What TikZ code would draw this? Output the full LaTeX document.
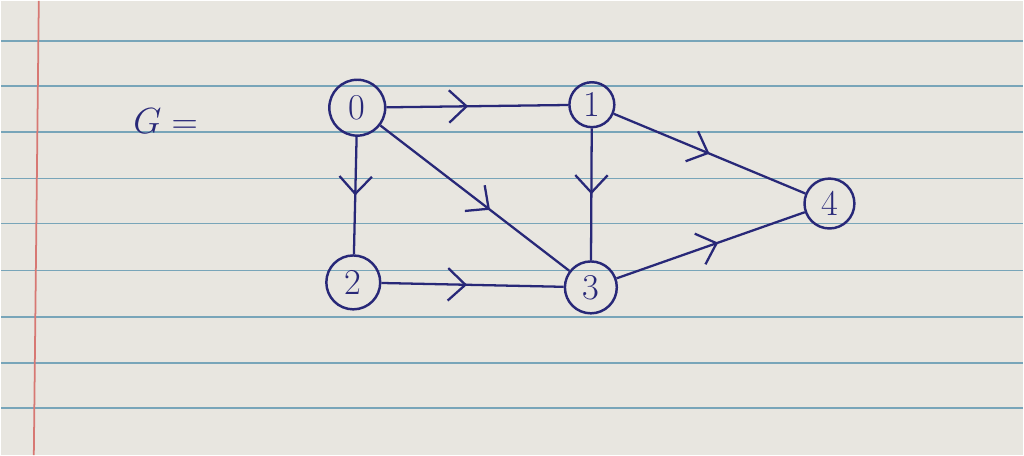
\documentclass[tikz,border=0pt]{standalone}
\usepackage{tikz}
\usetikzlibrary{arrows.meta,decorations.markings,positioning}

\definecolor{ink}{RGB}{40,40,120}
\definecolor{paper}{RGB}{232,230,224}
\definecolor{rule}{RGB}{120,165,185}
\definecolor{margin}{RGB}{215,120,115}

\begin{document}
\begin{tikzpicture}[x=0.02cm,y=-0.02cm,
    vertex/.style={circle,draw,line width=1.4pt,inner sep=0pt,font=\huge},
    edge/.style={line width=1.3pt,postaction={decorate},
      decoration={markings,mark=at position #1 with
        {\arrow{Straight Barb[length=3.5mm,width=6.5mm,line width=1.3pt]}}}},
    edge/.default=0.5]
    % Sheet of ruled paper
    \fill[paper] (0,0) rectangle (1024,455);
    \foreach \y in {40,85,131,178,223,270,317,363,408} {
        \draw[rule,line width=1pt] (0,\y) -- (1024,\y);
    }
    \draw[margin,line width=1pt] (38,0) -- (33,455);

    \begin{scope}[ink]
    % Vertices
    \node[font=\huge] (gname) at (165,120) {$G =$};
    \node[vertex,minimum size=1.12cm] (v0) at (357,107) {0};
    \node[vertex,minimum size=0.9cm] (v1) at (592,104) {1};
    \node[vertex,minimum size=1.08cm] (v2) at (353,282) {2};
    \node[vertex,minimum size=1.04cm] (v3) at (591,287) {3};
    \node[vertex,minimum size=1.0cm] (v4) at (830,203) {4};

    % Directed edges
    \draw[edge=0.45] (v0) -- (v1);
    \draw[edge=0.5] (v0) -- (v2);
    \draw[edge=0.58] (v0) -- (v3);
    \draw[edge=0.5] (v1) -- (v3);
    \draw[edge=0.5] (v1) -- (v4);
    \draw[edge=0.47] (v2) -- (v3);
    \draw[edge=0.54] (v3) -- (v4);
    \end{scope}
\end{tikzpicture}
\end{document}
